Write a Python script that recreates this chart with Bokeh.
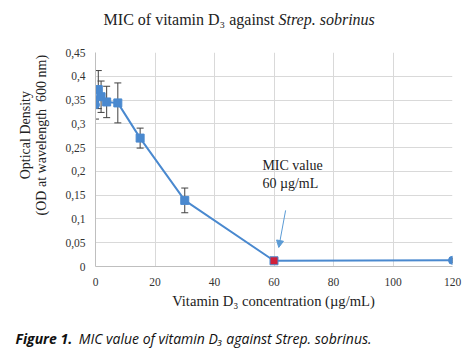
from bokeh.plotting import figure
from bokeh.models import (ColumnDataSource, Label, Arrow, NormalHead, Whisker, TeeHead,
                          CustomJSTickFormatter, FixedTicker, Range1d)
from bokeh.layouts import column, row
from bokeh.embed import file_html
from bokeh.resources import INLINE

# ---- data ----
conc = [0, 0.94, 1.875, 3.75, 7.5, 15, 30, 60, 120]
od = [0.340, 0.372, 0.357, 0.346, 0.344, 0.270, 0.139, 0.012, 0.013]
err = [0.030, 0.040, 0.033, 0.033, 0.042, 0.021, 0.026, 0.002, 0.005]
markers = ["circle", "square", "square", "square", "square", "square", "square", "square", "circle"]
fills = ["#4A89CF"] * 7 + ["#D0203A", "#4A89CF"]
x_ticks = [0, 20, 40, 60, 80, 100, 120]
y_ticks = [0, 0.05, 0.1, 0.15, 0.2, 0.25, 0.3, 0.35, 0.4, 0.45]
mic_x, mic_y = 60, 0.012

W = 472
TOP_H = 44      # title strip
MAIN_H = 246    # main plot strip
BOT_H = 70      # axis title + caption strip
YL_W = 60       # y-axis title strip

SERIF = "Liberation Serif"
SANS = "Open Sans"


def text_fig(w, h):
    f = figure(width=w, height=h, output_backend="svg", toolbar_location=None,
               x_range=Range1d(0, w), y_range=Range1d(h, 0),
               x_axis_type=None, y_axis_type=None, min_border=0)
    f.outline_line_color = None
    return f


def lab(f, text, x, y, size, font=SERIF, style="normal", align="left", angle=0,
        color="#222222"):
    f.add_layout(Label(x=x, y=y, text=text, text_font=font, text_font_size=size,
                       text_font_style=style, text_align=align, text_baseline="middle",
                       angle=angle, text_color=color))


# ---- title strip ----
t = text_fig(W, TOP_H)
lab(t, "MIC of vitamin D\u2083 against ", 278, 19, "16px", align="right")
lab(t, "Strep. sobrinus", 278, 19, "16px", style="italic")

# ---- y-axis title strip ----
yl = text_fig(YL_W, MAIN_H)
lab(yl, "Optical Density", 25, 139 - TOP_H, "14px", align="center", angle=1.5708)
lab(yl, "(OD at wavelength\u00a0 600 nm)", 41, 139 - TOP_H, "14px", align="center",
    angle=1.5708)

# ---- main plot ----
p = figure(width=W - YL_W, height=MAIN_H, output_backend="svg", toolbar_location=None,
           x_range=Range1d(0, 120), y_range=Range1d(0, 0.45),
           min_border_left=35, min_border_right=20, min_border_top=8, min_border_bottom=24)
p.outline_line_color = None
for ax in (p.xaxis[0], p.yaxis[0]):
    ax.major_tick_in = 0
    ax.major_tick_out = 0
    ax.minor_tick_in = 0
    ax.minor_tick_out = 0
    ax.axis_line_color = "#BFBFBF"
    ax.major_label_text_font = SERIF
    ax.major_label_text_font_size = "11.5px"
    ax.major_label_text_color = "#333333"
p.xaxis.ticker = FixedTicker(ticks=x_ticks)
p.yaxis.ticker = FixedTicker(ticks=y_ticks)
p.xaxis.major_label_standoff = 11
p.yaxis.major_label_standoff = 10
p.yaxis.formatter = CustomJSTickFormatter(code="""
    let s = tick.toFixed(2).replace(/0+$/, '').replace(/\\.$/, '');
    return s.replace('.', ',');
""")
p.xgrid.grid_line_color = "#D9D9D9"
p.ygrid.grid_line_color = "#D9D9D9"

src = ColumnDataSource(dict(x=conc, y=od, lo=[a - b for a, b in zip(od, err)],
                            hi=[a + b for a, b in zip(od, err)], m=markers, f=fills))
p.line("x", "y", source=src, line_color="#4A89CF", line_width=2)
p.add_layout(Whisker(base="x", upper="hi", lower="lo", source=src, dimension="height",
             line_color="#404040", line_width=1,
             upper_head=TeeHead(size=7, line_color="#404040", line_width=1),
             lower_head=TeeHead(size=7, line_color="#404040", line_width=1)))
p.scatter("x", "y", source=src, marker="m", size=8, fill_color="f", line_color="#4A89CF",
          line_width=1)

# MIC annotation (data units inside the frame)
p.add_layout(Label(x=56.1, y=0.212, text="MIC value", text_font=SERIF, text_font_size="14px",
                   text_baseline="middle", text_color="#222222"))
p.add_layout(Label(x=56.1, y=0.1745, text="60 \u00b5g/mL", text_font=SERIF,
                   text_font_size="14px", text_baseline="middle", text_color="#222222"))
p.add_layout(Arrow(end=NormalHead(size=7, fill_color="#5B9BD5", line_color="#5B9BD5"),
                   x_start=63.9, y_start=0.118, x_end=mic_x + 1.6, y_end=mic_y + 0.028,
                   line_color="#5B9BD5", line_width=1))

# ---- bottom strip: x-axis title + caption ----
b = text_fig(W, BOT_H)
lab(b, "Vitamin D\u2083 concentration (\u00b5g/mL)", 273, 300 - 290, "14.6px", align="center")
lab(b, "Figure 1.", 15, 338 - 290, "14px", font=SANS, style="bold italic", color="#111111")
lab(b, "MIC value of vitamin D\u2083 against Strep. sobrinus.", 371, 338 - 290, "14px",
    font=SANS, style="italic", align="right", color="#111111")

layout = column(t, row(yl, p), b)
open("out.html", "w").write(file_html(layout, INLINE))
